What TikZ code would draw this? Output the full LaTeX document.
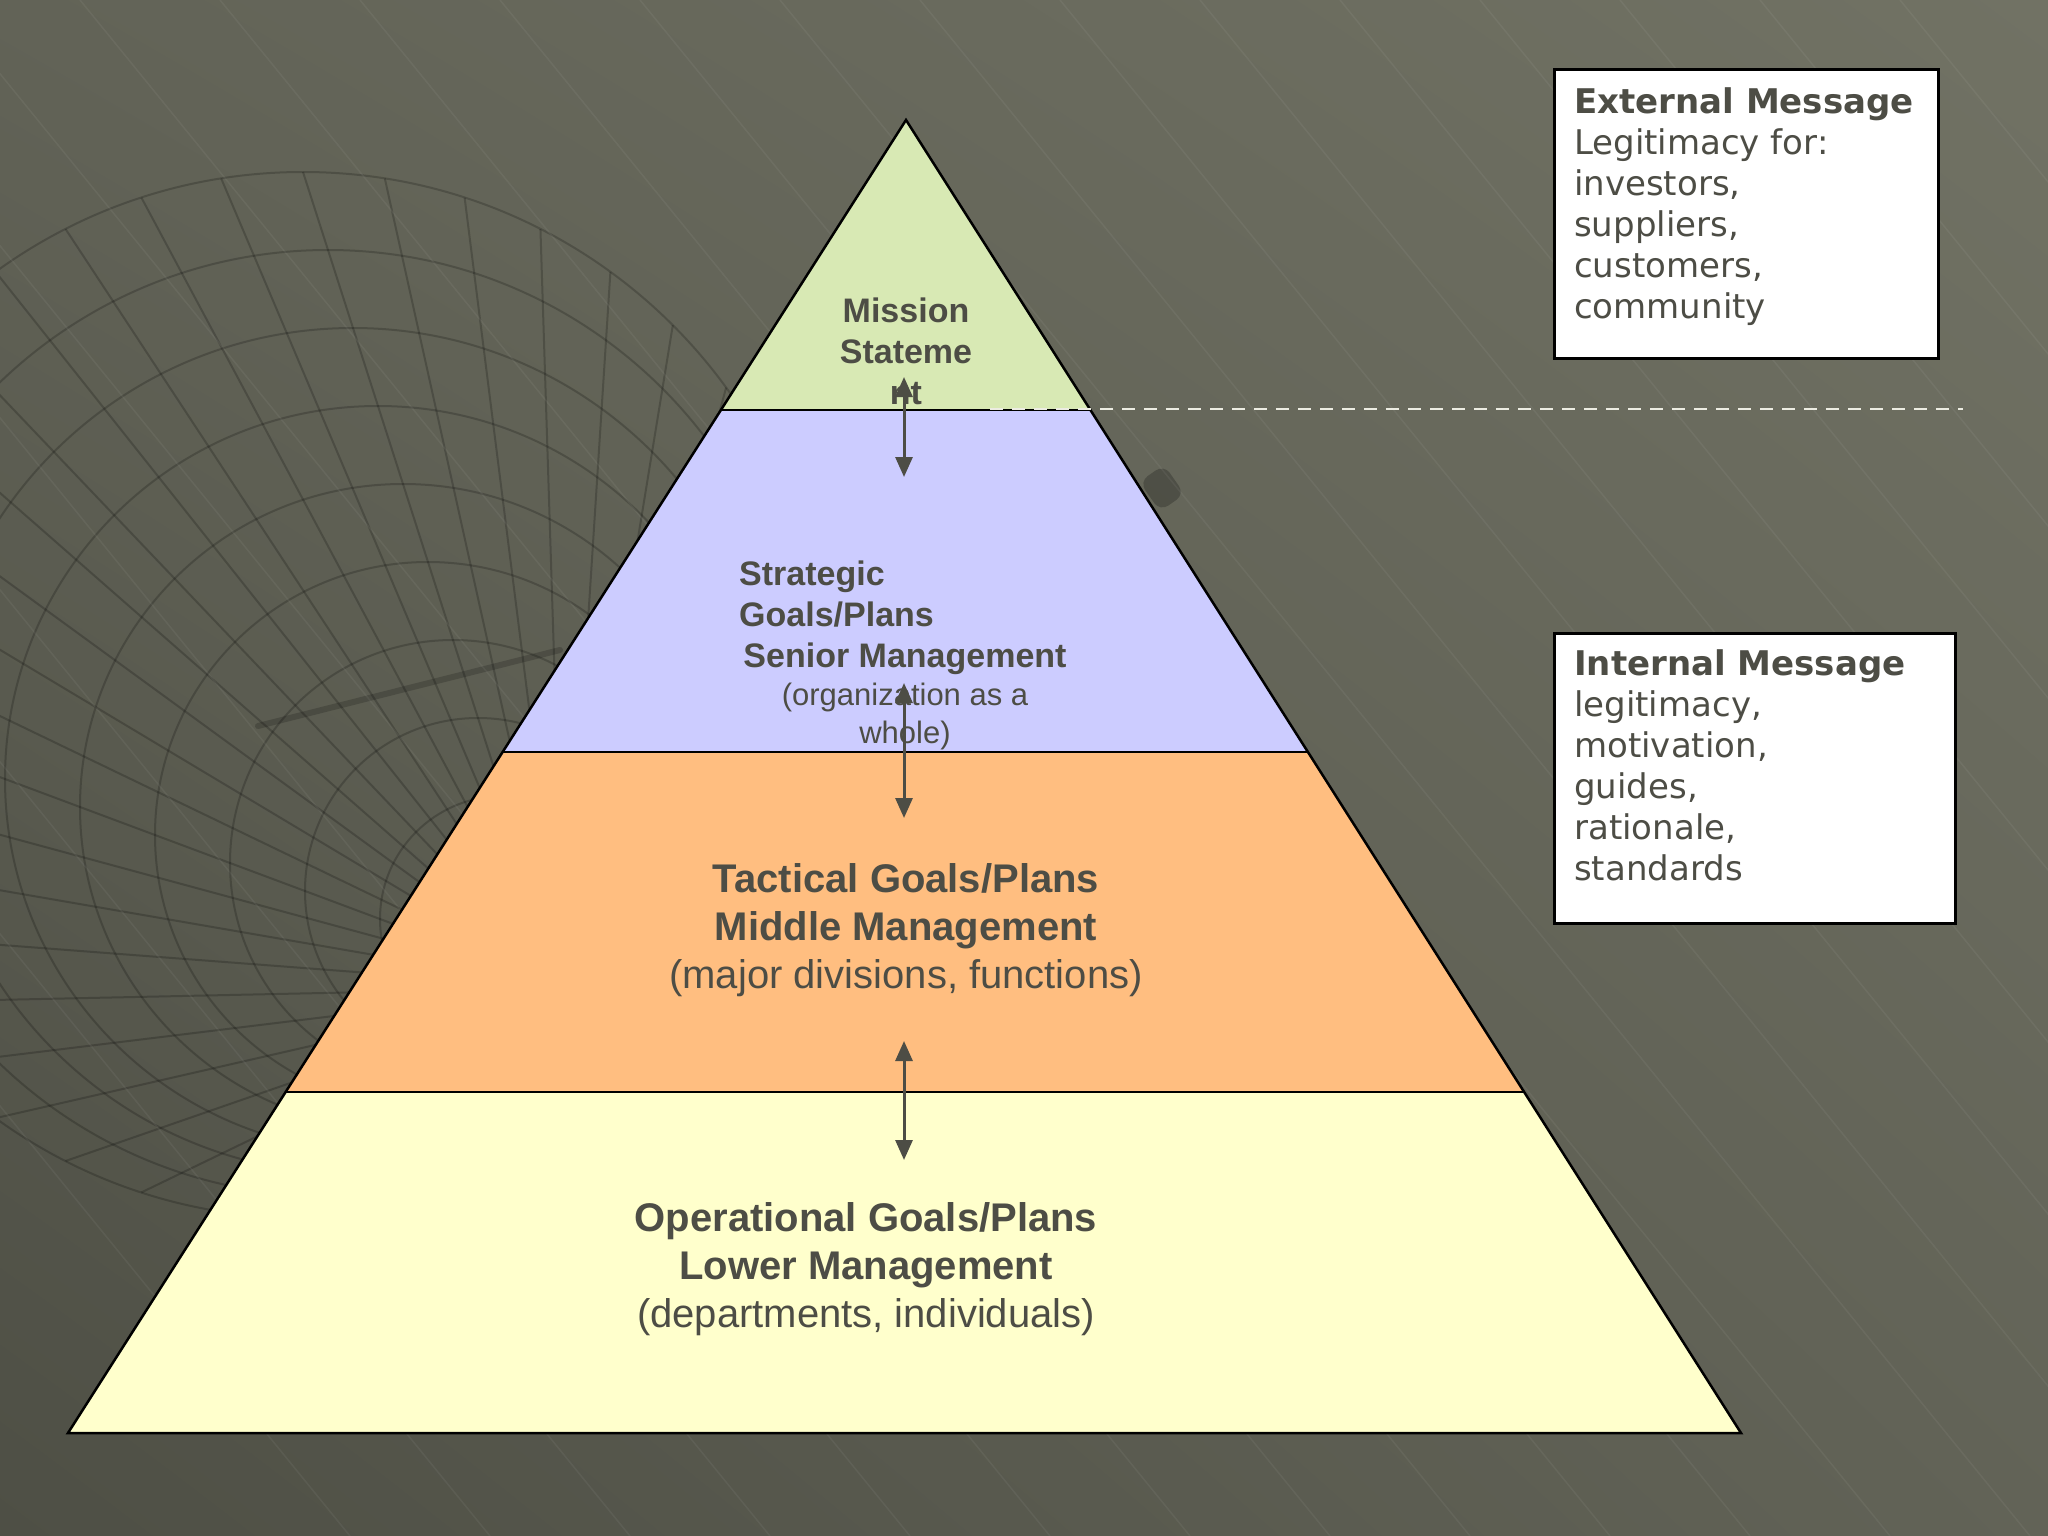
\documentclass[tikz,border=0pt]{standalone}
\usepackage{fontspec}
\setmainfont{Liberation Sans}
\newfontfamily\boxfont{DejaVu Sans}
\usetikzlibrary{arrows.meta,shadings}
\definecolor{txt}{RGB}{77,77,69}
\definecolor{bgdark}{RGB}{78,79,69}
\definecolor{bgmid}{RGB}{98,99,87}
\definecolor{bglight}{RGB}{113,114,100}
\definecolor{lgreen}{RGB}{216,233,180}
\definecolor{lpurple}{RGB}{204,204,255}
\definecolor{lorange}{RGB}{255,190,128}
\definecolor{lyellow}{RGB}{255,255,204}
\definecolor{dashcol}{RGB}{236,236,226}
\begin{document}
\begin{tikzpicture}[x=1pt,y=-1pt,
  layer/.style={draw=black, line width=2.5pt, line join=miter},
  ptext/.style={text=txt, inner sep=0pt, align=center, anchor=base},
  boldbig/.style={font=\fontsize{34}{41}\selectfont\bfseries},
  regsmall/.style={font=\fontsize{31}{38}\selectfont},
  levelbig/.style={font=\fontsize{40}{48}\selectfont},
  darrow/.style={draw=txt, line width=3pt, {Triangle[length=20pt,width=17pt]}-{Triangle[length=20pt,width=17pt]}},
  msgbox/.style={draw=black, line width=3pt, fill=white, inner sep=0pt, anchor=north west},
  msgtext/.style={text=txt, inner sep=0pt, anchor=base west, align=left, font=\boxfont\fontsize{34}{41}\selectfont},
  dashline/.style={draw=dashcol, line width=2.5pt, dash pattern=on 13pt off 9pt},
  gridline/.style={draw=black, draw opacity=0.2, line width=2pt},
  streak/.style={draw=white, draw opacity=0.05, line width=1.5pt}
]
\useasboundingbox (0,0) rectangle (2048,1536);
% background
\shade[lower left=bgdark, upper right=bglight, upper left=bgmid, lower right=bgmid] (0,0) rectangle (2048,1536);
\begin{scope}
  \clip (0,0) rectangle (1400,1536);
  % nested rings of the warped grid
  \foreach \k in {0,...,9}
    \draw[gridline] ({303+25*\k},{695+28*\k}) circle[radius={(523-50*\k)*1pt}];
  % meridians of the warped grid
  \foreach \a in {0,9,...,359}
    \draw[gridline] ({528+73*cos(\a)},{947+73*sin(\a)}) -- ({303+523*cos(\a)},{695+523*sin(\a)});
  \draw[draw=black, draw opacity=0.18, line width=6pt, line cap=round] (258,726) -- (560,650);
  \fill[black, fill opacity=0.22, rounded corners=10pt, rotate around={35:(1162,488)}] (1147,470) rectangle (1177,506);
\end{scope}
\foreach \s in {-900,-760,...,2000}
  \draw[streak] (\s,0) -- ++(1250,1536);
% pyramid layers
\fill[lyellow] (285.6,1092) -- (1524.1,1092) -- (1741,1433) -- (68,1433) -- cycle;
\fill[lorange] (502.6,752) -- (1307.9,752) -- (1524.1,1092) -- (285.6,1092) -- cycle;
\fill[lpurple] (720.9,410) -- (1090.4,410) -- (1307.9,752) -- (502.6,752) -- cycle;
\fill[lgreen] (906,120) -- (1090.4,410) -- (720.9,410) -- cycle;
\draw[layer] (906,120) -- (1741,1433) -- (68,1433) -- cycle;
\draw[layer] (720.9,410) -- (1090.4,410);
\draw[layer] (502.6,752) -- (1307.9,752);
\draw[layer] (285.6,1092) -- (1524.1,1092);
% dashed separator
\coordinate (dL) at (990,409);
\coordinate (dR) at (1963,409);
\draw[dashline] (dL) -- (dR);
% pyramid texts (anchor = baseline of the last line)
\node[ptext, boldbig] (mission) at (906,404) {Mission\\Stateme\\nt};
\node[ptext, boldbig, anchor=base west, align=left] (strat) at (739,626) {Strategic\\Goals/Plans};
\node[ptext, boldbig] (senior) at (905,667) {Senior Management};
\node[ptext, regsmall] (org) at (905,743) {(organization as a\\whole)};
\node[ptext, levelbig] (tact) at (906,988) {{\bfseries Tactical Goals/Plans}\\{\bfseries Middle Management}\\(major divisions, functions)};
\node[ptext, levelbig] (oper) at (866,1327) {{\bfseries Operational Goals/Plans}\\{\bfseries Lower Management}\\(departments, individuals)};
% arrows
\coordinate (a1t) at (904,377);
\coordinate (a1b) at (904,477);
\coordinate (a2t) at (904,683);
\coordinate (a2b) at (904,818);
\coordinate (a3t) at (904,1041);
\coordinate (a3b) at (904,1160);
\draw[darrow] (a1t) -- (a1b);
\draw[darrow] (a2t) -- (a2b);
\draw[darrow] (a3t) -- (a3b);
% message boxes
\node[msgbox, minimum width=384pt, minimum height=289pt] (ext) at (1553,68) {};
\node[msgtext] (exttxt) at (1574,318) {\textbf{External Message}\\Legitimacy for:\\investors,\\suppliers,\\customers,\\community};
\node[msgbox, minimum width=401pt, minimum height=290pt] (int) at (1553,632) {};
\node[msgtext] (inttxt) at (1574,880) {\textbf{Internal Message}\\legitimacy,\\motivation,\\guides,\\rationale,\\standards};
\end{tikzpicture}
\end{document}
